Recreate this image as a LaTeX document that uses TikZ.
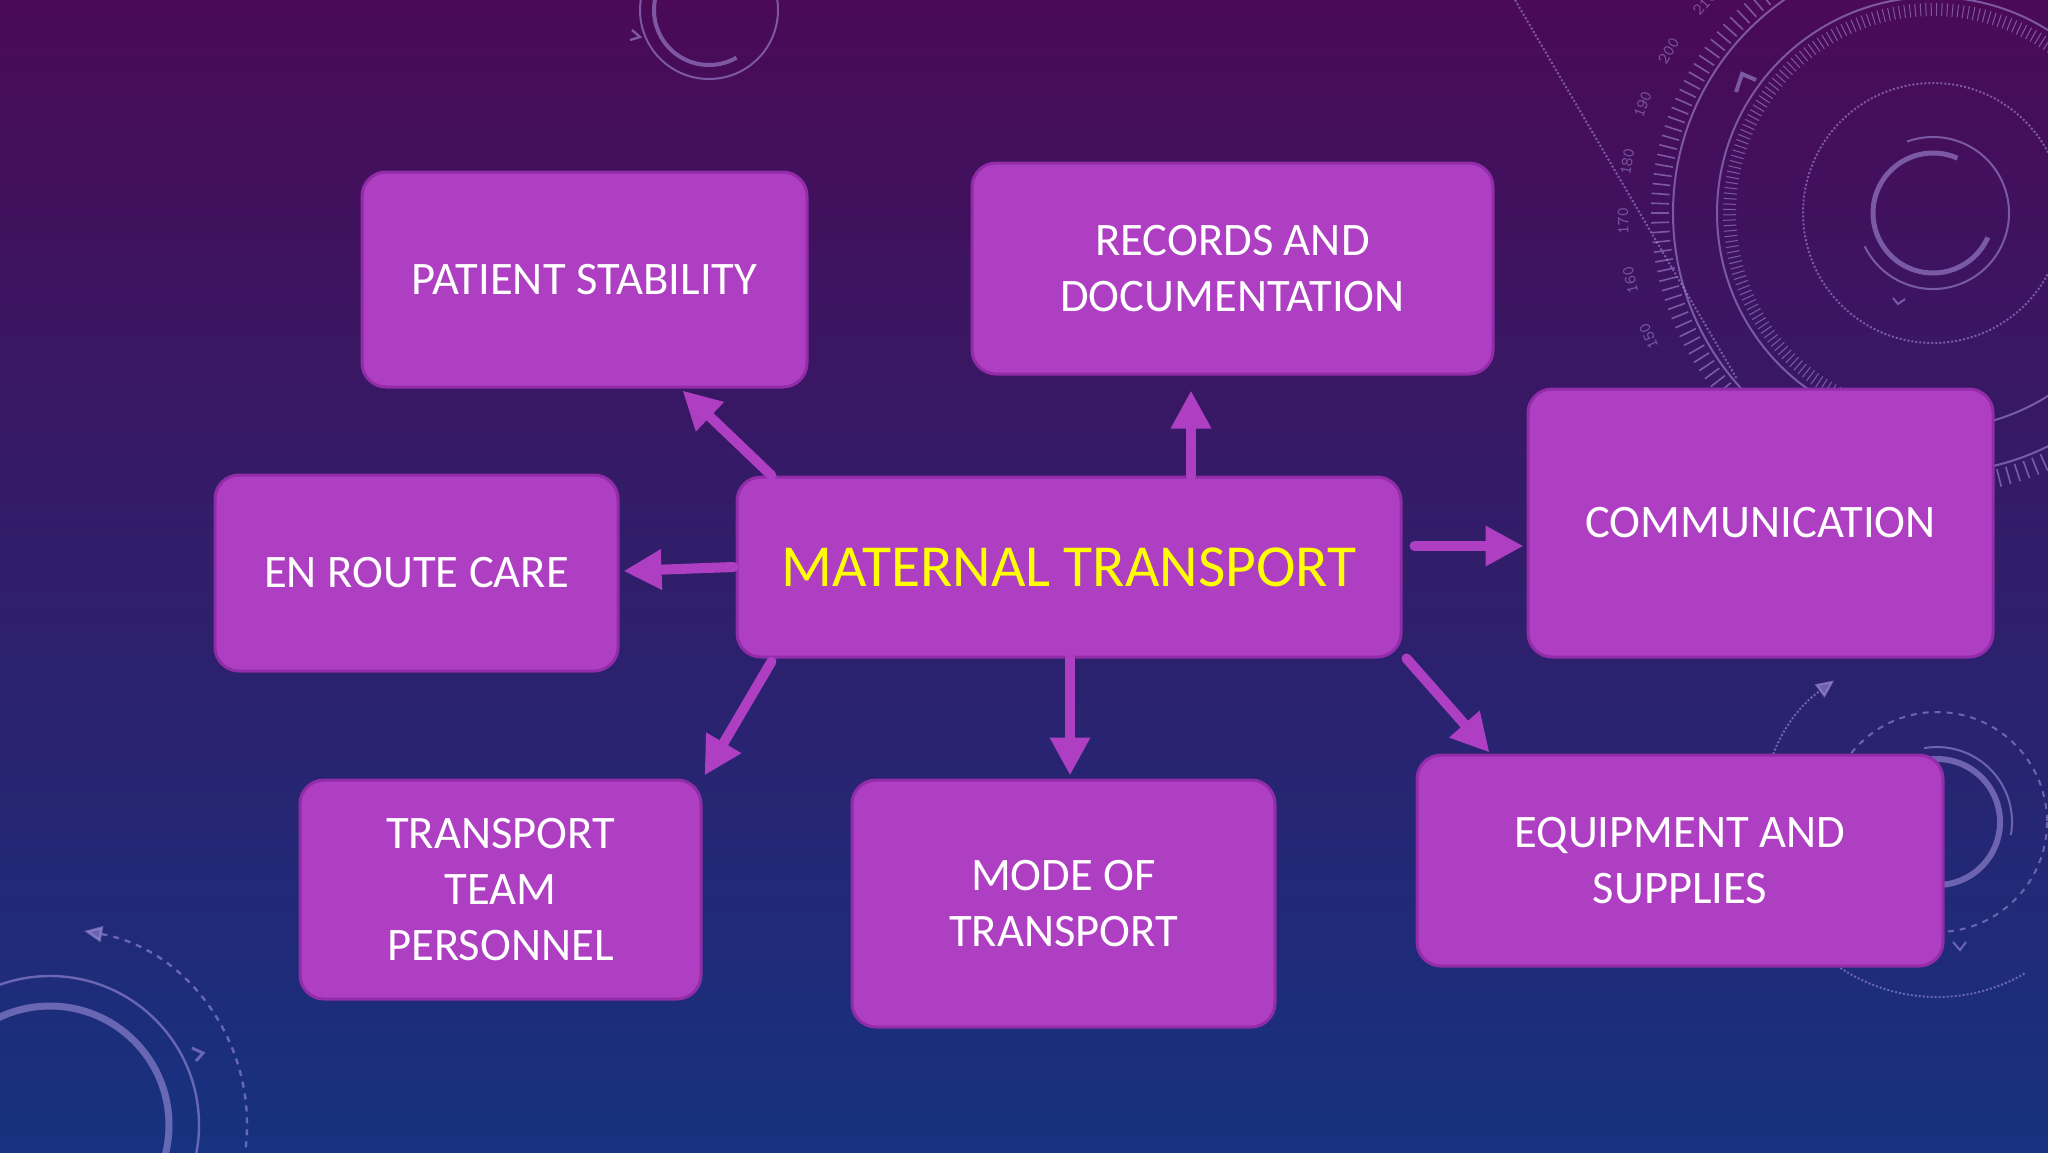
\documentclass[tikz,border=0pt]{standalone}
\usepackage{fontspec}
\setmainfont{Carlito}
\usetikzlibrary{arrows.meta}

\definecolor{boxfill}{RGB}{174,62,194}
\definecolor{boxline}{RGB}{146,44,168}
\definecolor{bgtop}{RGB}{74,10,86}
\definecolor{bgmid}{RGB}{44,24,104}
\definecolor{bgbot}{RGB}{22,50,128}
\definecolor{decoline}{RGB}{170,150,225}
\definecolor{titlecol}{RGB}{255,255,0}

\tikzset{
  topic/.style={draw=boxline, line width=1.5pt, fill=boxfill, rounded corners=12pt,
    text=white, align=center, inner sep=0pt, font=\fontsize{23.3}{28}\selectfont},
  link/.style={draw=boxfill, line width=5pt, line cap=round, -{Triangle[length=19pt,width=19pt]}},
  deco/.style={draw=decoline, opacity=0.55},
}

\begin{document}
\begin{tikzpicture}[x=0.5pt, y=-0.5pt]
  \useasboundingbox (0,0) rectangle (2048,1152);
  \clip (0,0) rectangle (2048,1152);
  \shade[top color=bgtop, middle color=bgmid, bottom color=bgbot] (0,0) rectangle (2048,1152);

  % background rings
  \draw[deco, line width=1pt] (709,10) circle[radius=69];
  \draw[deco, line width=2pt] (709,10) ++(-100:55) arc[start angle=-100, end angle=-300, radius=55];
  \draw[deco, line width=1.2pt] (632,30) -- (640,37) -- (630,40);

  \draw[deco, densely dotted, line width=1pt] (1515,0) -- (1737,379);
  \draw[deco, densely dotted, line width=1pt] (1933,213) circle[radius=130];
  \draw[deco, line width=2.5pt] (1933,213) ++(-66:60) arc[start angle=-66, end angle=-336, radius=60];
  \draw[deco, line width=1pt] (1933,213) ++(-110:76) arc[start angle=-110, end angle=154, radius=76];
  \draw[deco, line width=1pt] (1933,213) circle[radius=216] circle[radius=260];
  \foreach \a in {100,102,...,300}
    \draw[deco, line width=0.8pt] (1933,213) ++(-\a:264) -- ++(-\a:18);
  \foreach \a in {50,51.5,...,260}
    \draw[deco, line width=0.5pt] (1933,213) ++(-\a:197) -- ++(-\a:13);
  \foreach \n in {150,160,...,210}
    \path (1933,213) ++({1.1*\n-368.5}:310) node[text=decoline, opacity=0.5, inner sep=0pt,
      font=\ttfamily\fontsize{8.5}{8.5}\selectfont, rotate={80.5-1.1*(\n-180)}] (deg\n) {\n};
  \draw[deco, line width=2pt] (1736,92) -- (1742,74) -- (1756,80);
  \draw[deco, line width=1pt] (1893,298) -- (1898,304) -- (1905,299);

  \draw[deco, line width=3.5pt] (50,1125) circle[radius=119];
  \draw[deco, line width=1.2pt] (50,1125) circle[radius=149];
  \draw[deco, dashed, line width=1.2pt, -{Triangle[length=9pt,width=8pt]}]
    (50,1125) ++(10:197) arc[start angle=10, end angle=-80, radius=197];
  \draw[deco, line width=1.5pt] (192,1048) -- (203,1053) -- (196,1061);

  \draw[deco, line width=3pt] (1937,822) circle[radius=63];
  \draw[deco, line width=1pt] (1937,822) ++(-100:75) arc[start angle=-100, end angle=10, radius=75];
  \draw[deco, dashed, line width=1pt] (1937,822) circle[radius=110];
  \draw[deco, densely dotted, line width=1pt, -{Triangle[length=9pt,width=8pt]}]
    (1937,822) ++(-300:175) arc[start angle=-300, end angle=-126, radius=175];
  \draw[deco, line width=1pt] (1953,942) -- (1960,950) -- (1966,942);

  % topics
  \node[topic, minimum width=222.5pt, minimum height=107.5pt] (stab) at (584.5,279.5) {PATIENT STABILITY};
  \node[topic, minimum width=260.5pt, minimum height=105.5pt] (recs) at (1232.5,268.5) {RECORDS AND\\DOCUMENTATION};
  \node[topic, minimum width=232.5pt, minimum height=134pt] (comm) at (1760.5,523) {COMMUNICATION};
  \node[topic, minimum width=201.5pt, minimum height=98pt] (route) at (416.5,573) {EN ROUTE CARE};
  \node[topic, minimum width=200.5pt, minimum height=109.5pt] (team) at (500.5,889.5) {TRANSPORT\\TEAM\\PERSONNEL};
  \node[topic, minimum width=211.5pt, minimum height=123.5pt] (mode) at (1063.5,903.5) {MODE OF\\TRANSPORT};
  \node[topic, minimum width=263pt, minimum height=105.5pt] (equip) at (1680,860.5) {EQUIPMENT AND\\SUPPLIES};
  \node[topic, minimum width=332pt, minimum height=90pt, text=titlecol,
    font=\fontsize{29.8}{34}\selectfont] (mat) at (1069,567) {MATERNAL TRANSPORT};

  \draw[link] ([xshift=18pt]mat.north west) -- ([xshift=49pt,yshift=-1pt]stab.south);
  \draw[link] ([xshift=61pt]mat.north) -- ([xshift=-20.75pt,yshift=-7.5pt]recs.south);
  \draw[link] ([xshift=6pt,yshift=10.5pt]mat.east) -- ([xshift=-1.5pt,yshift=-11.5pt]comm.west);
  \draw[link] ([xshift=-1pt]mat.west) -- ([xshift=2pt,yshift=1pt]route.east);
  \draw[link] ([xshift=18pt,yshift=-1.5pt]mat.south west) -- ([xshift=1pt,yshift=1.5pt]team.north east);
  \draw[link] ([xshift=0.5pt]mat.south) -- ([xshift=3.25pt,yshift=1.5pt]mode.north);
  \draw[link] ([xshift=2pt]mat.south east) -- ([xshift=37pt,yshift=0.5pt]equip.north west);
\end{tikzpicture}
\end{document}
